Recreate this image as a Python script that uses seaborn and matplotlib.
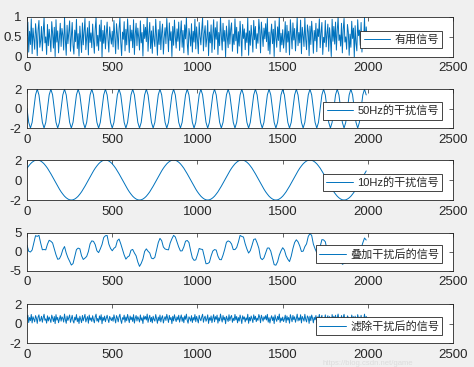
import numpy as np
import seaborn as sns
from matplotlib import pyplot as plt

# indeks próbek: szum co 5 próbek, sinusy co 10
n_fine = np.arange(0, 2000, 5)
n_coarse = np.arange(0, 2000, 10)

# sygnal uzyteczny (w procentach, 0..100)
useful_pct = [
    53, 87, 12, 64, 31, 95, 8, 72, 46, 19, 83, 57, 3, 68, 91, 24, 40, 76, 15, 62,
    97, 35, 50, 6, 81, 28, 69, 44, 13, 88, 59, 22, 74, 1, 93, 37, 65, 10, 48, 84,
    26, 71, 55, 17, 99, 42, 4, 79, 33, 61, 90, 14, 52, 86, 29, 7, 67, 38, 94, 21,
    58, 2, 77, 45, 11, 85, 30, 63, 96, 18, 49, 73, 5, 89, 36, 60, 23, 82, 41, 9,
    70, 98, 27, 54, 16, 80, 39, 92, 0, 66, 34, 78, 20, 56, 87, 43, 12, 75, 51, 32,
    64, 25, 91, 47, 8, 83, 58, 19, 71, 97, 36, 3, 62, 44, 88, 15, 69, 30, 95, 53,
    11, 79, 40, 67, 23, 93, 6, 56, 84, 28, 72, 49, 17, 90, 35, 61, 2, 81, 46, 74,
    38, 99, 14, 57, 86, 21, 65, 9, 77, 43, 26, 94, 52, 4, 68, 31, 89, 18, 60, 82,
    7, 48, 73, 33, 96, 55, 13, 85, 41, 63, 1, 76, 29, 92, 50, 22, 70, 39, 87, 16,
    59, 90, 24, 66, 10, 80, 45, 98, 34, 5, 71, 54, 27, 83, 12, 64, 37, 94, 20, 75,
    42, 8, 86, 51, 30, 69, 97, 15, 58, 78, 25, 47, 91, 3, 62, 35, 80, 11, 56, 93,
    19, 73, 44, 88, 6, 61, 28, 99, 53, 17, 84, 39, 66, 0, 77, 49, 23, 92, 32, 68,
    85, 14, 57, 31, 95, 40, 74, 9, 63, 27, 89, 52, 2, 81, 46, 70, 18, 60, 36, 97,
    4, 65, 29, 79, 50, 12, 91, 43, 76, 21, 58, 34, 94, 67, 10, 87, 55, 26, 72, 45,
    83, 38, 96, 16, 62, 7, 54, 82, 33, 69, 1, 90, 48, 24, 75, 41, 99, 13, 59, 30,
    68, 22, 47, 88, 11, 79, 37, 64, 5, 93, 56, 20, 85, 42, 71, 15, 52, 98, 28, 61,
    35, 92, 8, 74, 53, 26, 97, 44, 18, 80, 63, 3, 77, 31, 89, 57, 9, 66, 40, 84,
    13, 70, 51, 95, 23, 60, 86, 6, 49, 36, 91, 25, 58, 82, 14, 73, 45, 1, 94, 39,
    76, 32, 87, 17, 65, 99, 41, 55, 27, 84, 10, 68, 96, 37, 50, 19, 81, 62, 4, 57,
    24, 89, 46, 72, 0, 78, 34, 15, 93, 53, 67, 29, 86, 12, 61, 43, 98, 21, 75, 48,
]

# jeden okres zaklocen (krok 10 probek)
wave50_cycle = [0, -1.41, -2, -1.41, 0, 1.41, 2, 1.41]
wave10_cycle = [
    1.18, 1.41, 1.62, 1.78, 1.90, 1.98, 2.00, 1.98, 1.90, 1.78,
    1.62, 1.41, 1.18, 0.91, 0.62, 0.31, 0.00, -0.31, -0.62, -0.91,
    -1.18, -1.41, -1.62, -1.78, -1.90, -1.98, -2.00, -1.98, -1.90, -1.78,
    -1.62, -1.41, -1.18, -0.91, -0.62, -0.31, 0.00, 0.31, 0.62, 0.91,
]

labels = ["有用信号", "50Hz的干扰信号", "10Hz的干扰信号", "叠加干扰后的信号", "滤除干扰后的信号"]
yticks = [[0, 0.5, 1], [-2, 0, 2], [-2, 0, 2], [-5, 0, 5], [-2, 0, 2]]
yticklabels = [["0", "0.5", "1"], ["-2", "0", "2"], ["-2", "0", "2"], ["-5", "0", "5"], ["-2", "0", "2"]]
xticks = [0, 500, 1000, 1500, 2000, 2500]

useful = np.array(useful_pct) / 100
wave50 = np.tile(wave50_cycle, 25)
wave10 = np.tile(wave10_cycle, 5)
mixed = useful[::2] + wave50 + wave10
filtered = useful

series = [
    (n_fine, useful),
    (n_coarse, wave50),
    (n_coarse, wave10),
    (n_coarse, mixed),
    (n_fine, filtered),
]

sns.set_theme(style="white")
plt.rcParams["font.family"] = ["Liberation Sans", "Noto Sans CJK SC"]

dark = "#262626"
blue = "#0072BD"

fig = plt.figure(figsize=(4.74, 3.67), dpi=100, facecolor="#f0f0f0")
bottoms = [0.845, 0.651, 0.455, 0.262, 0.065]
heights = [0.109, 0.106, 0.109, 0.104, 0.106]

for i, ((x, y), label) in enumerate(zip(series, labels)):
    ax = fig.add_axes([0.057, bottoms[i], 0.899, heights[i]])
    ax.set_facecolor("white")
    sns.lineplot(x=x, y=y, ax=ax, color=blue, linewidth=0.7, label=label, estimator=None)
    ax.set_xlim(0, 2500)
    ax.set_ylim(yticks[i][0], yticks[i][-1])
    ax.set_xticks(xticks)
    ax.set_xticklabels([str(t) for t in xticks])
    ax.set_yticks(yticks[i])
    ax.set_yticklabels(yticklabels[i])
    ax.set_xlabel("")
    ax.set_ylabel("")
    for sp in ax.spines.values():
        sp.set_color(dark)
        sp.set_linewidth(0.6)
    ax.tick_params(direction="in", top=True, right=True, length=3, width=0.5,
                   colors=dark, labelsize=9.5)
    ax.tick_params(axis="x", pad=4)
    ax.tick_params(axis="y", pad=4)
    leg = ax.legend(loc="center right", bbox_to_anchor=(0.975, 0.44),
                    prop={"family": ["Liberation Sans", "Noto Sans CJK SC"], "size": 8},
                    frameon=True, fancybox=False, framealpha=1, handlelength=2.4,
                    borderpad=0.3, handletextpad=0.4, borderaxespad=0)
    leg.get_frame().set_edgecolor(dark)
    leg.get_frame().set_linewidth(0.6)
    for t in leg.get_texts():
        t.set_color(dark)

# znak wodny pod etykietami osi
fig.text(0.68, 0.0, "https://blog.csdn.net/game", color="#dcdcdc", fontsize=5.5,
         va="bottom", zorder=0)

plt.savefig("out.png", dpi=100, facecolor=fig.get_facecolor())
